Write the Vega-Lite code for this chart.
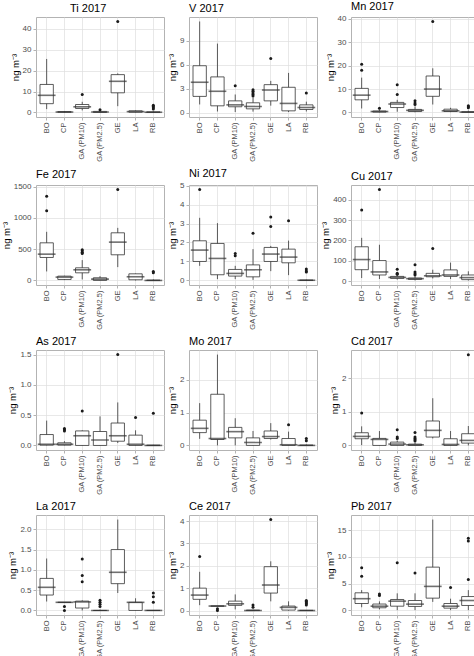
{
"$schema": "https://vega.github.io/schema/vega-lite/v6.json",
"padding": {"left": 0, "top": 0, "right": 0, "bottom": 0},
"data": {"values": [
{"el":"Ti","site":"BO","lo":1.6,"q1":4.2,"med":8.2,"q3":13.4,"hi":25.6},
{"el":"Ti","site":"CP","lo":0,"q1":0.1,"med":0.2,"q3":0.4,"hi":0.6},
{"el":"Ti","site":"GA (PM10)","lo":1.0,"q1":1.9,"med":2.7,"q3":3.8,"hi":5.1},
{"el":"Ti","site":"GA (PM2.5)","lo":0,"q1":0,"med":0.2,"q3":0.5,"hi":0.8},
{"el":"Ti","site":"GE","lo":3.0,"q1":9.4,"med":14.9,"q3":18.1,"hi":18.7},
{"el":"Ti","site":"LA","lo":0,"q1":0.1,"med":0.4,"q3":0.8,"hi":1.0},
{"el":"Ti","site":"RB","lo":0,"q1":0,"med":0.1,"q3":0.3,"hi":0.6},
{"el":"Ti","site":"GA (PM10)","v":8.6},{"el":"Ti","site":"GA (PM2.5)","v":1.3},{"el":"Ti","site":"GE","v":43.5},
{"el":"Ti","site":"RB","v":3.4},{"el":"Ti","site":"RB","v":2.8},{"el":"Ti","site":"RB","v":2.2},{"el":"Ti","site":"RB","v":1.6},
{"el":"V","site":"BO","lo":1.05,"q1":2.06,"med":3.83,"q3":5.9,"hi":11.44},
{"el":"V","site":"CP","lo":0.17,"q1":0.88,"med":2.7,"q3":4.5,"hi":8.67},
{"el":"V","site":"GA (PM10)","lo":0.1,"q1":0.76,"med":1.0,"q3":1.5,"hi":2.3},
{"el":"V","site":"GA (PM2.5)","lo":0.15,"q1":0.5,"med":0.8,"q3":1.26,"hi":1.9},
{"el":"V","site":"GE","lo":0.9,"q1":1.5,"med":2.86,"q3":3.53,"hi":4.0},
{"el":"V","site":"LA","lo":0.1,"q1":0.25,"med":1.18,"q3":3.2,"hi":5.0},
{"el":"V","site":"RB","lo":0.17,"q1":0.42,"med":0.67,"q3":1.0,"hi":1.4},
{"el":"V","site":"GA (PM10)","v":3.4},{"el":"V","site":"GA (PM2.5)","v":2.9},{"el":"V","site":"GA (PM2.5)","v":2.7},{"el":"V","site":"GA (PM2.5)","v":2.5},{"el":"V","site":"GA (PM2.5)","v":2.3},{"el":"V","site":"GA (PM2.5)","v":2.1},{"el":"V","site":"GE","v":6.8},{"el":"V","site":"RB","v":2.5},
{"el":"Mn","site":"BO","lo":1.7,"q1":5.4,"med":7.4,"q3":10.3,"hi":14.9},
{"el":"Mn","site":"CP","lo":0,"q1":0.15,"med":0.4,"q3":0.6,"hi":1.2},
{"el":"Mn","site":"GA (PM10)","lo":0.3,"q1":2.1,"med":3.6,"q3":4.3,"hi":5.4},
{"el":"Mn","site":"GA (PM2.5)","lo":0.05,"q1":0.4,"med":0.9,"q3":1.3,"hi":2.6},
{"el":"Mn","site":"GE","lo":3.4,"q1":6.9,"med":10.0,"q3":15.6,"hi":18.9},
{"el":"Mn","site":"LA","lo":0.1,"q1":0.4,"med":0.7,"q3":1.4,"hi":2.0},
{"el":"Mn","site":"RB","lo":0,"q1":0.05,"med":0.15,"q3":0.3,"hi":0.8},
{"el":"Mn","site":"BO","v":20.6},{"el":"Mn","site":"BO","v":18.1},{"el":"Mn","site":"CP","v":1.8},{"el":"Mn","site":"GA (PM10)","v":11.9},{"el":"Mn","site":"GA (PM10)","v":7.7},
{"el":"Mn","site":"GA (PM2.5)","v":5.0},{"el":"Mn","site":"GA (PM2.5)","v":4.0},{"el":"Mn","site":"GA (PM2.5)","v":3.4},{"el":"Mn","site":"GE","v":38.9},
{"el":"Mn","site":"RB","v":2.9},{"el":"Mn","site":"RB","v":2.4},{"el":"Mn","site":"RB","v":2.0},
{"el":"Fe","site":"BO","lo":144,"q1":367,"med":420,"q3":601,"hi":777},
{"el":"Fe","site":"CP","lo":5,"q1":16,"med":53,"q3":69,"hi":75},
{"el":"Fe","site":"GA (PM10)","lo":16,"q1":122,"med":170,"q3":202,"hi":325},
{"el":"Fe","site":"GA (PM2.5)","lo":0,"q1":0,"med":21,"q3":43,"hi":69},
{"el":"Fe","site":"GE","lo":213,"q1":410,"med":612,"q3":761,"hi":840},
{"el":"Fe","site":"LA","lo":0,"q1":11,"med":59,"q3":106,"hi":110},
{"el":"Fe","site":"RB","lo":0,"q1":0,"med":0,"q3":5,"hi":16},
{"el":"Fe","site":"BO","v":1346},{"el":"Fe","site":"BO","v":1112},{"el":"Fe","site":"GA (PM10)","v":490},{"el":"Fe","site":"GA (PM10)","v":473},{"el":"Fe","site":"GA (PM10)","v":452},{"el":"Fe","site":"GA (PM10)","v":431},
{"el":"Fe","site":"GE","v":1452},{"el":"Fe","site":"RB","v":144},{"el":"Fe","site":"RB","v":122},
{"el":"Ni","site":"BO","lo":0.77,"q1":1.0,"med":1.6,"q3":2.09,"hi":3.3},
{"el":"Ni","site":"CP","lo":0.07,"q1":0.3,"med":1.16,"q3":1.95,"hi":3.02},
{"el":"Ni","site":"GA (PM10)","lo":0.07,"q1":0.23,"med":0.37,"q3":0.58,"hi":0.77},
{"el":"Ni","site":"GA (PM2.5)","lo":0.03,"q1":0.19,"med":0.56,"q3":0.82,"hi":1.65},
{"el":"Ni","site":"GE","lo":0.49,"q1":1.0,"med":1.39,"q3":1.74,"hi":1.82},
{"el":"Ni","site":"LA","lo":0.28,"q1":0.93,"med":1.23,"q3":1.65,"hi":2.1},
{"el":"Ni","site":"RB","lo":0,"q1":0,"med":0.01,"q3":0.02,"hi":0.04},
{"el":"Ni","site":"BO","v":4.79},{"el":"Ni","site":"GA (PM10)","v":1.42},{"el":"Ni","site":"GA (PM10)","v":1.3},{"el":"Ni","site":"GA (PM2.5)","v":2.49},
{"el":"Ni","site":"GE","v":3.35},{"el":"Ni","site":"GE","v":2.84},{"el":"Ni","site":"LA","v":3.14},{"el":"Ni","site":"RB","v":0.6},{"el":"Ni","site":"RB","v":0.5},{"el":"Ni","site":"RB","v":0.45},
{"el":"Cu","site":"BO","lo":15,"q1":56,"med":106,"q3":169,"hi":213},
{"el":"Cu","site":"CP","lo":10,"q1":30,"med":45,"q3":101,"hi":179},
{"el":"Cu","site":"GA (PM10)","lo":7,"q1":13,"med":18,"q3":23,"hi":30},
{"el":"Cu","site":"GA (PM2.5)","lo":3,"q1":8,"med":12,"q3":15,"hi":23},
{"el":"Cu","site":"GE","lo":13,"q1":21,"med":26,"q3":38,"hi":56},
{"el":"Cu","site":"LA","lo":10,"q1":23,"med":30,"q3":55,"hi":91},
{"el":"Cu","site":"RB","lo":3,"q1":7,"med":17,"q3":30,"hi":48},
{"el":"Cu","site":"BO","v":350},{"el":"Cu","site":"CP","v":451},{"el":"Cu","site":"GA (PM10)","v":58},{"el":"Cu","site":"GA (PM10)","v":38},{"el":"Cu","site":"GA (PM10)","v":34},
{"el":"Cu","site":"GA (PM2.5)","v":81},{"el":"Cu","site":"GA (PM2.5)","v":45},{"el":"Cu","site":"GA (PM2.5)","v":36},{"el":"Cu","site":"GA (PM2.5)","v":30},{"el":"Cu","site":"GE","v":160},
{"el":"As","site":"BO","lo":0,"q1":0.005,"med":0.02,"q3":0.18,"hi":0.41},
{"el":"As","site":"CP","lo":0,"q1":0.005,"med":0.02,"q3":0.044,"hi":0.07},
{"el":"As","site":"GA (PM10)","lo":0,"q1":0,"med":0.16,"q3":0.24,"hi":0.25},
{"el":"As","site":"GA (PM2.5)","lo":0,"q1":0,"med":0.09,"q3":0.23,"hi":0.48},
{"el":"As","site":"GE","lo":0.04,"q1":0.07,"med":0.16,"q3":0.37,"hi":0.71},
{"el":"As","site":"LA","lo":0,"q1":0,"med":0.02,"q3":0.17,"hi":0.25},
{"el":"As","site":"RB","lo":0,"q1":0,"med":0,"q3":0.005,"hi":0.01},
{"el":"As","site":"CP","v":0.28},{"el":"As","site":"CP","v":0.26},{"el":"As","site":"CP","v":0.24},{"el":"As","site":"GA (PM10)","v":0.57},{"el":"As","site":"GE","v":1.5},{"el":"As","site":"LA","v":0.46},{"el":"As","site":"RB","v":0.53},
{"el":"Mo","site":"BO","lo":0.2,"q1":0.39,"med":0.52,"q3":0.77,"hi":1.29},
{"el":"Mo","site":"CP","lo":0,"q1":0.18,"med":0.21,"q3":1.56,"hi":2.77},
{"el":"Mo","site":"GA (PM10)","lo":0,"q1":0.23,"med":0.42,"q3":0.55,"hi":0.83},
{"el":"Mo","site":"GA (PM2.5)","lo":0,"q1":0,"med":0.09,"q3":0.23,"hi":0.44},
{"el":"Mo","site":"GE","lo":0.18,"q1":0.21,"med":0.27,"q3":0.44,"hi":0.68},
{"el":"Mo","site":"LA","lo":0,"q1":0,"med":0.02,"q3":0.21,"hi":0.42},
{"el":"Mo","site":"RB","lo":0,"q1":0,"med":0,"q3":0.01,"hi":0.03},
{"el":"Mo","site":"LA","v":0.63},{"el":"Mo","site":"RB","v":0.21},{"el":"Mo","site":"RB","v":0.14},
{"el":"Cd","site":"BO","lo":0.01,"q1":0.2,"med":0.27,"q3":0.38,"hi":0.57},
{"el":"Cd","site":"CP","lo":0,"q1":0,"med":0.18,"q3":0.21,"hi":0.43},
{"el":"Cd","site":"GA (PM10)","lo":0,"q1":0,"med":0.04,"q3":0.1,"hi":0.15},
{"el":"Cd","site":"GA (PM2.5)","lo":0,"q1":0,"med":0.02,"q3":0.04,"hi":0.08},
{"el":"Cd","site":"GE","lo":0.21,"q1":0.25,"med":0.45,"q3":0.73,"hi":1.41},
{"el":"Cd","site":"LA","lo":0,"q1":0,"med":0.03,"q3":0.2,"hi":0.43},
{"el":"Cd","site":"RB","lo":0,"q1":0.07,"med":0.15,"q3":0.35,"hi":0.58},
{"el":"Cd","site":"BO","v":0.97},{"el":"Cd","site":"GA (PM10)","v":0.47},{"el":"Cd","site":"GA (PM10)","v":0.25},{"el":"Cd","site":"GA (PM10)","v":0.21},
{"el":"Cd","site":"GA (PM2.5)","v":0.39},{"el":"Cd","site":"GA (PM2.5)","v":0.25},{"el":"Cd","site":"GA (PM2.5)","v":0.21},{"el":"Cd","site":"GA (PM2.5)","v":0.17},{"el":"Cd","site":"GA (PM2.5)","v":0.13},{"el":"Cd","site":"RB","v":2.71},
{"el":"La","site":"BO","lo":0.22,"q1":0.38,"med":0.57,"q3":0.79,"hi":1.28},
{"el":"La","site":"CP","lo":0.2,"q1":0.2,"med":0.2,"q3":0.2,"hi":0.2},
{"el":"La","site":"GA (PM10)","lo":0,"q1":0.06,"med":0.21,"q3":0.23,"hi":0.25},
{"el":"La","site":"GA (PM2.5)","lo":0,"q1":0,"med":0,"q3":0,"hi":0.02},
{"el":"La","site":"GE","lo":0.43,"q1":0.66,"med":0.94,"q3":1.5,"hi":2.24},
{"el":"La","site":"LA","lo":0,"q1":0,"med":0.2,"q3":0.2,"hi":0.3},
{"el":"La","site":"RB","lo":0,"q1":0,"med":0,"q3":0,"hi":0},
{"el":"La","site":"CP","v":0.1},{"el":"La","site":"CP","v":0.0},{"el":"La","site":"GA (PM10)","v":1.27},{"el":"La","site":"GA (PM10)","v":0.86},{"el":"La","site":"GA (PM10)","v":0.71},
{"el":"La","site":"GA (PM2.5)","v":0.25},{"el":"La","site":"GA (PM2.5)","v":0.2},{"el":"La","site":"GA (PM2.5)","v":0.15},{"el":"La","site":"GA (PM2.5)","v":0.1},
{"el":"La","site":"RB","v":0.43},{"el":"La","site":"RB","v":0.34},{"el":"La","site":"RB","v":0.2},
{"el":"Ce","site":"BO","lo":0.24,"q1":0.5,"med":0.69,"q3":1.0,"hi":1.73},
{"el":"Ce","site":"CP","lo":0.2,"q1":0.2,"med":0.2,"q3":0.2,"hi":0.2},
{"el":"Ce","site":"GA (PM10)","lo":0.05,"q1":0.23,"med":0.3,"q3":0.42,"hi":0.72},
{"el":"Ce","site":"GA (PM2.5)","lo":0,"q1":0,"med":0,"q3":0.02,"hi":0.03},
{"el":"Ce","site":"GE","lo":0.41,"q1":0.78,"med":1.14,"q3":1.96,"hi":2.2},
{"el":"Ce","site":"LA","lo":0,"q1":0.02,"med":0.14,"q3":0.2,"hi":0.41},
{"el":"Ce","site":"RB","lo":0,"q1":0,"med":0,"q3":0.01,"hi":0.02},
{"el":"Ce","site":"BO","v":2.41},{"el":"Ce","site":"CP","v":0.08},{"el":"Ce","site":"CP","v":0.0},{"el":"Ce","site":"GA (PM2.5)","v":0.25},{"el":"Ce","site":"GA (PM2.5)","v":0.15},{"el":"Ce","site":"GE","v":4.07},
{"el":"Ce","site":"RB","v":0.45},{"el":"Ce","site":"RB","v":0.4},{"el":"Ce","site":"RB","v":0.35},{"el":"Ce","site":"RB","v":0.3},{"el":"Ce","site":"RB","v":0.25},
{"el":"Pb","site":"BO","lo":0.6,"q1":1.3,"med":2.2,"q3":3.3,"hi":3.8},
{"el":"Pb","site":"CP","lo":0.2,"q1":0.5,"med":0.8,"q3":1.2,"hi":1.7},
{"el":"Pb","site":"GA (PM10)","lo":0.06,"q1":0.8,"med":1.74,"q3":2.05,"hi":3.2},
{"el":"Pb","site":"GA (PM2.5)","lo":0.06,"q1":0.75,"med":1.18,"q3":1.86,"hi":3.2},
{"el":"Pb","site":"GE","lo":1.6,"q1":2.3,"med":4.5,"q3":8.1,"hi":17.0},
{"el":"Pb","site":"LA","lo":0.06,"q1":0.43,"med":0.8,"q3":1.3,"hi":2.2},
{"el":"Pb","site":"RB","lo":0.06,"q1":0.93,"med":1.86,"q3":2.6,"hi":3.8},
{"el":"Pb","site":"BO","v":8.0},{"el":"Pb","site":"BO","v":6.4},{"el":"Pb","site":"CP","v":3.1},{"el":"Pb","site":"CP","v":2.8},{"el":"Pb","site":"GA (PM10)","v":8.9},{"el":"Pb","site":"GA (PM2.5)","v":7.0},
{"el":"Pb","site":"LA","v":4.3},{"el":"Pb","site":"RB","v":13.5},{"el":"Pb","site":"RB","v":13.0},{"el":"Pb","site":"RB","v":5.8}
]},
"columns": 3,
"spacing": {"row": 4, "column": 2},
"concat": [
{"title":{"text":"Ti 2017","dx":34},"width":128,"height":100,"transform":[{"filter":"datum.el==='Ti'"}],"resolve":{"axis":{"y":"independent"}},
 "encoding":{"x":{"field":"site","type":"nominal","scale":{"domain":["BO","CP","GA (PM10)","GA (PM2.5)","GE","LA","RB"],"paddingInner":0,"paddingOuter":0.1},"axis":{"title":null,"labelAngle":-90,"grid":true,"bandPosition":0.5}}},
 "layer":[
  {"transform":[{"filter":"datum.lo!=null"}],"mark":{"type":"rule","color":"#333333","strokeWidth":0.8},"encoding":{"y":{"field":"lo","type":"quantitative","title":"ng m⁻³","scale":{"domain":[-2.175,45.675],"nice":false,"zero":false},"axis":{"values":[0,10,20,30,40],"orient":"left"}},"y2":{"field":"hi"}}},
  {"transform":[{"filter":"datum.q1!=null"}],"mark":{"type":"bar","width":{"band":0.75},"fill":"white","stroke":"#333333","strokeWidth":0.8},"encoding":{"y":{"field":"q1","type":"quantitative","axis":null},"y2":{"field":"q3"}}},
  {"transform":[{"filter":"datum.med!=null"}],"mark":{"type":"tick","color":"#333333","thickness":1.6},"encoding":{"y":{"field":"med","type":"quantitative","axis":null}}},
  {"transform":[{"filter":"datum.v!=null"}],"mark":{"type":"point","filled":true,"color":"#1a1a1a","size":9,"opacity":1},"encoding":{"y":{"field":"v","type":"quantitative","axis":{"values":[5,15,25,35,45],"orient":"right","labels":false,"ticks":false,"title":null,"gridColor":"#f0f0f0","minExtent":0,"maxExtent":0}}}}
 ]},
{"title":"V 2017","width":128,"height":100,"transform":[{"filter":"datum.el==='V'"}],"resolve":{"axis":{"y":"independent"}},
 "encoding":{"x":{"field":"site","type":"nominal","scale":{"domain":["BO","CP","GA (PM10)","GA (PM2.5)","GE","LA","RB"],"paddingInner":0,"paddingOuter":0.1},"axis":{"title":null,"labelAngle":-90,"grid":true,"bandPosition":0.5}}},
 "layer":[
  {"transform":[{"filter":"datum.lo!=null"}],"mark":{"type":"rule","color":"#333333","strokeWidth":0.8},"encoding":{"y":{"field":"lo","type":"quantitative","title":"ng m⁻³","scale":{"domain":[-0.52,12.0],"nice":false,"zero":false},"axis":{"values":[0,3,6,9],"orient":"left"}},"y2":{"field":"hi"}}},
  {"transform":[{"filter":"datum.q1!=null"}],"mark":{"type":"bar","width":{"band":0.75},"fill":"white","stroke":"#333333","strokeWidth":0.8},"encoding":{"y":{"field":"q1","type":"quantitative","axis":null},"y2":{"field":"q3"}}},
  {"transform":[{"filter":"datum.med!=null"}],"mark":{"type":"tick","color":"#333333","thickness":1.6},"encoding":{"y":{"field":"med","type":"quantitative","axis":null}}},
  {"transform":[{"filter":"datum.v!=null"}],"mark":{"type":"point","filled":true,"color":"#1a1a1a","size":9,"opacity":1},"encoding":{"y":{"field":"v","type":"quantitative","axis":{"values":[1.5,4.5,7.5,10.5],"orient":"right","labels":false,"ticks":false,"title":null,"gridColor":"#f0f0f0","minExtent":0,"maxExtent":0}}}}
 ]},
{"title":"Mn 2017","width":128,"height":100,"transform":[{"filter":"datum.el==='Mn'"}],"resolve":{"axis":{"y":"independent"}},
 "encoding":{"x":{"field":"site","type":"nominal","scale":{"domain":["BO","CP","GA (PM10)","GA (PM2.5)","GE","LA","RB"],"paddingInner":0,"paddingOuter":0.1},"axis":{"title":null,"labelAngle":-90,"grid":true,"bandPosition":0.5}}},
 "layer":[
  {"transform":[{"filter":"datum.lo!=null"}],"mark":{"type":"rule","color":"#333333","strokeWidth":0.8},"encoding":{"y":{"field":"lo","type":"quantitative","title":"ng m⁻³","scale":{"domain":[-1.95,40.85],"nice":false,"zero":false},"axis":{"values":[0,10,20,30,40],"orient":"left"}},"y2":{"field":"hi"}}},
  {"transform":[{"filter":"datum.q1!=null"}],"mark":{"type":"bar","width":{"band":0.75},"fill":"white","stroke":"#333333","strokeWidth":0.8},"encoding":{"y":{"field":"q1","type":"quantitative","axis":null},"y2":{"field":"q3"}}},
  {"transform":[{"filter":"datum.med!=null"}],"mark":{"type":"tick","color":"#333333","thickness":1.6},"encoding":{"y":{"field":"med","type":"quantitative","axis":null}}},
  {"transform":[{"filter":"datum.v!=null"}],"mark":{"type":"point","filled":true,"color":"#1a1a1a","size":9,"opacity":1},"encoding":{"y":{"field":"v","type":"quantitative","axis":{"values":[5,15,25,35],"orient":"right","labels":false,"ticks":false,"title":null,"gridColor":"#f0f0f0","minExtent":0,"maxExtent":0}}}}
 ]},
{"title":"Fe 2017","width":128,"height":100,"transform":[{"filter":"datum.el==='Fe'"}],"resolve":{"axis":{"y":"independent"}},
 "encoding":{"x":{"field":"site","type":"nominal","scale":{"domain":["BO","CP","GA (PM10)","GA (PM2.5)","GE","LA","RB"],"paddingInner":0,"paddingOuter":0.1},"axis":{"title":null,"labelAngle":-90,"grid":true,"bandPosition":0.5}}},
 "layer":[
  {"transform":[{"filter":"datum.lo!=null"}],"mark":{"type":"rule","color":"#333333","strokeWidth":0.8},"encoding":{"y":{"field":"lo","type":"quantitative","title":"ng m⁻³","scale":{"domain":[-72.6,1524.6],"nice":false,"zero":false},"axis":{"values":[0,500,1000,1500],"orient":"left","format":"d"}},"y2":{"field":"hi"}}},
  {"transform":[{"filter":"datum.q1!=null"}],"mark":{"type":"bar","width":{"band":0.75},"fill":"white","stroke":"#333333","strokeWidth":0.8},"encoding":{"y":{"field":"q1","type":"quantitative","axis":null},"y2":{"field":"q3"}}},
  {"transform":[{"filter":"datum.med!=null"}],"mark":{"type":"tick","color":"#333333","thickness":1.6},"encoding":{"y":{"field":"med","type":"quantitative","axis":null}}},
  {"transform":[{"filter":"datum.v!=null"}],"mark":{"type":"point","filled":true,"color":"#1a1a1a","size":9,"opacity":1},"encoding":{"y":{"field":"v","type":"quantitative","axis":{"values":[250,750,1250],"orient":"right","labels":false,"ticks":false,"title":null,"gridColor":"#f0f0f0","minExtent":0,"maxExtent":0}}}}
 ]},
{"title":"Ni 2017","width":128,"height":100,"transform":[{"filter":"datum.el==='Ni'"}],"resolve":{"axis":{"y":"independent"}},
 "encoding":{"x":{"field":"site","type":"nominal","scale":{"domain":["BO","CP","GA (PM10)","GA (PM2.5)","GE","LA","RB"],"paddingInner":0,"paddingOuter":0.1},"axis":{"title":null,"labelAngle":-90,"grid":true,"bandPosition":0.5}}},
 "layer":[
  {"transform":[{"filter":"datum.lo!=null"}],"mark":{"type":"rule","color":"#333333","strokeWidth":0.8},"encoding":{"y":{"field":"lo","type":"quantitative","title":"ng m⁻³","scale":{"domain":[-0.24,5.03],"nice":false,"zero":false},"axis":{"values":[0,1,2,3,4,5],"orient":"left"}},"y2":{"field":"hi"}}},
  {"transform":[{"filter":"datum.q1!=null"}],"mark":{"type":"bar","width":{"band":0.75},"fill":"white","stroke":"#333333","strokeWidth":0.8},"encoding":{"y":{"field":"q1","type":"quantitative","axis":null},"y2":{"field":"q3"}}},
  {"transform":[{"filter":"datum.med!=null"}],"mark":{"type":"tick","color":"#333333","thickness":1.6},"encoding":{"y":{"field":"med","type":"quantitative","axis":null}}},
  {"transform":[{"filter":"datum.v!=null"}],"mark":{"type":"point","filled":true,"color":"#1a1a1a","size":9,"opacity":1},"encoding":{"y":{"field":"v","type":"quantitative","axis":{"values":[0.5,1.5,2.5,3.5,4.5],"orient":"right","labels":false,"ticks":false,"title":null,"gridColor":"#f0f0f0","minExtent":0,"maxExtent":0}}}}
 ]},
{"title":"Cu 2017","width":128,"height":100,"transform":[{"filter":"datum.el==='Cu'"}],"resolve":{"axis":{"y":"independent"}},
 "encoding":{"x":{"field":"site","type":"nominal","scale":{"domain":["BO","CP","GA (PM10)","GA (PM2.5)","GE","LA","RB"],"paddingInner":0,"paddingOuter":0.1},"axis":{"title":null,"labelAngle":-90,"grid":true,"bandPosition":0.5}}},
 "layer":[
  {"transform":[{"filter":"datum.lo!=null"}],"mark":{"type":"rule","color":"#333333","strokeWidth":0.8},"encoding":{"y":{"field":"lo","type":"quantitative","title":"ng m⁻³","scale":{"domain":[-19.4,473.4],"nice":false,"zero":false},"axis":{"values":[0,100,200,300,400],"orient":"left"}},"y2":{"field":"hi"}}},
  {"transform":[{"filter":"datum.q1!=null"}],"mark":{"type":"bar","width":{"band":0.75},"fill":"white","stroke":"#333333","strokeWidth":0.8},"encoding":{"y":{"field":"q1","type":"quantitative","axis":null},"y2":{"field":"q3"}}},
  {"transform":[{"filter":"datum.med!=null"}],"mark":{"type":"tick","color":"#333333","thickness":1.6},"encoding":{"y":{"field":"med","type":"quantitative","axis":null}}},
  {"transform":[{"filter":"datum.v!=null"}],"mark":{"type":"point","filled":true,"color":"#1a1a1a","size":9,"opacity":1},"encoding":{"y":{"field":"v","type":"quantitative","axis":{"values":[50,150,250,350,450],"orient":"right","labels":false,"ticks":false,"title":null,"gridColor":"#f0f0f0","minExtent":0,"maxExtent":0}}}}
 ]},
{"title":"As 2017","width":128,"height":100,"transform":[{"filter":"datum.el==='As'"}],"resolve":{"axis":{"y":"independent"}},
 "encoding":{"x":{"field":"site","type":"nominal","scale":{"domain":["BO","CP","GA (PM10)","GA (PM2.5)","GE","LA","RB"],"paddingInner":0,"paddingOuter":0.1},"axis":{"title":null,"labelAngle":-90,"grid":true,"bandPosition":0.5}}},
 "layer":[
  {"transform":[{"filter":"datum.lo!=null"}],"mark":{"type":"rule","color":"#333333","strokeWidth":0.8},"encoding":{"y":{"field":"lo","type":"quantitative","title":"ng m⁻³","scale":{"domain":[-0.075,1.575],"nice":false,"zero":false},"axis":{"values":[0,0.5,1,1.5],"orient":"left","format":".1f"}},"y2":{"field":"hi"}}},
  {"transform":[{"filter":"datum.q1!=null"}],"mark":{"type":"bar","width":{"band":0.75},"fill":"white","stroke":"#333333","strokeWidth":0.8},"encoding":{"y":{"field":"q1","type":"quantitative","axis":null},"y2":{"field":"q3"}}},
  {"transform":[{"filter":"datum.med!=null"}],"mark":{"type":"tick","color":"#333333","thickness":1.6},"encoding":{"y":{"field":"med","type":"quantitative","axis":null}}},
  {"transform":[{"filter":"datum.v!=null"}],"mark":{"type":"point","filled":true,"color":"#1a1a1a","size":9,"opacity":1},"encoding":{"y":{"field":"v","type":"quantitative","axis":{"values":[0.25,0.75,1.25],"orient":"right","labels":false,"ticks":false,"title":null,"gridColor":"#f0f0f0","minExtent":0,"maxExtent":0}}}}
 ]},
{"title":"Mo 2017","width":128,"height":100,"transform":[{"filter":"datum.el==='Mo'"}],"resolve":{"axis":{"y":"independent"}},
 "encoding":{"x":{"field":"site","type":"nominal","scale":{"domain":["BO","CP","GA (PM10)","GA (PM2.5)","GE","LA","RB"],"paddingInner":0,"paddingOuter":0.1},"axis":{"title":null,"labelAngle":-90,"grid":true,"bandPosition":0.5}}},
 "layer":[
  {"transform":[{"filter":"datum.lo!=null"}],"mark":{"type":"rule","color":"#333333","strokeWidth":0.8},"encoding":{"y":{"field":"lo","type":"quantitative","title":"ng m⁻³","scale":{"domain":[-0.14,2.91],"nice":false,"zero":false},"axis":{"values":[0,1,2],"orient":"left"}},"y2":{"field":"hi"}}},
  {"transform":[{"filter":"datum.q1!=null"}],"mark":{"type":"bar","width":{"band":0.75},"fill":"white","stroke":"#333333","strokeWidth":0.8},"encoding":{"y":{"field":"q1","type":"quantitative","axis":null},"y2":{"field":"q3"}}},
  {"transform":[{"filter":"datum.med!=null"}],"mark":{"type":"tick","color":"#333333","thickness":1.6},"encoding":{"y":{"field":"med","type":"quantitative","axis":null}}},
  {"transform":[{"filter":"datum.v!=null"}],"mark":{"type":"point","filled":true,"color":"#1a1a1a","size":9,"opacity":1},"encoding":{"y":{"field":"v","type":"quantitative","axis":{"values":[0.5,1.5,2.5],"orient":"right","labels":false,"ticks":false,"title":null,"gridColor":"#f0f0f0","minExtent":0,"maxExtent":0}}}}
 ]},
{"title":"Cd 2017","width":128,"height":100,"transform":[{"filter":"datum.el==='Cd'"}],"resolve":{"axis":{"y":"independent"}},
 "encoding":{"x":{"field":"site","type":"nominal","scale":{"domain":["BO","CP","GA (PM10)","GA (PM2.5)","GE","LA","RB"],"paddingInner":0,"paddingOuter":0.1},"axis":{"title":null,"labelAngle":-90,"grid":true,"bandPosition":0.5}}},
 "layer":[
  {"transform":[{"filter":"datum.lo!=null"}],"mark":{"type":"rule","color":"#333333","strokeWidth":0.8},"encoding":{"y":{"field":"lo","type":"quantitative","title":"ng m⁻³","scale":{"domain":[-0.136,2.85],"nice":false,"zero":false},"axis":{"values":[0,1,2],"orient":"left"}},"y2":{"field":"hi"}}},
  {"transform":[{"filter":"datum.q1!=null"}],"mark":{"type":"bar","width":{"band":0.75},"fill":"white","stroke":"#333333","strokeWidth":0.8},"encoding":{"y":{"field":"q1","type":"quantitative","axis":null},"y2":{"field":"q3"}}},
  {"transform":[{"filter":"datum.med!=null"}],"mark":{"type":"tick","color":"#333333","thickness":1.6},"encoding":{"y":{"field":"med","type":"quantitative","axis":null}}},
  {"transform":[{"filter":"datum.v!=null"}],"mark":{"type":"point","filled":true,"color":"#1a1a1a","size":9,"opacity":1},"encoding":{"y":{"field":"v","type":"quantitative","axis":{"values":[0.5,1.5,2.5],"orient":"right","labels":false,"ticks":false,"title":null,"gridColor":"#f0f0f0","minExtent":0,"maxExtent":0}}}}
 ]},
{"title":"La 2017","width":128,"height":100,"transform":[{"filter":"datum.el==='La'"}],"resolve":{"axis":{"y":"independent"}},
 "encoding":{"x":{"field":"site","type":"nominal","scale":{"domain":["BO","CP","GA (PM10)","GA (PM2.5)","GE","LA","RB"],"paddingInner":0,"paddingOuter":0.1},"axis":{"title":null,"labelAngle":-90,"grid":true,"bandPosition":0.5}}},
 "layer":[
  {"transform":[{"filter":"datum.lo!=null"}],"mark":{"type":"rule","color":"#333333","strokeWidth":0.8},"encoding":{"y":{"field":"lo","type":"quantitative","title":"ng m⁻³","scale":{"domain":[-0.112,2.352],"nice":false,"zero":false},"axis":{"values":[0,0.5,1,1.5,2],"orient":"left","format":".1f"}},"y2":{"field":"hi"}}},
  {"transform":[{"filter":"datum.q1!=null"}],"mark":{"type":"bar","width":{"band":0.75},"fill":"white","stroke":"#333333","strokeWidth":0.8},"encoding":{"y":{"field":"q1","type":"quantitative","axis":null},"y2":{"field":"q3"}}},
  {"transform":[{"filter":"datum.med!=null"}],"mark":{"type":"tick","color":"#333333","thickness":1.6},"encoding":{"y":{"field":"med","type":"quantitative","axis":null}}},
  {"transform":[{"filter":"datum.v!=null"}],"mark":{"type":"point","filled":true,"color":"#1a1a1a","size":9,"opacity":1},"encoding":{"y":{"field":"v","type":"quantitative","axis":{"values":[0.25,0.75,1.25,1.75,2.25],"orient":"right","labels":false,"ticks":false,"title":null,"gridColor":"#f0f0f0","minExtent":0,"maxExtent":0}}}}
 ]},
{"title":"Ce 2017","width":128,"height":100,"transform":[{"filter":"datum.el==='Ce'"}],"resolve":{"axis":{"y":"independent"}},
 "encoding":{"x":{"field":"site","type":"nominal","scale":{"domain":["BO","CP","GA (PM10)","GA (PM2.5)","GE","LA","RB"],"paddingInner":0,"paddingOuter":0.1},"axis":{"title":null,"labelAngle":-90,"grid":true,"bandPosition":0.5}}},
 "layer":[
  {"transform":[{"filter":"datum.lo!=null"}],"mark":{"type":"rule","color":"#333333","strokeWidth":0.8},"encoding":{"y":{"field":"lo","type":"quantitative","title":"ng m⁻³","scale":{"domain":[-0.2,4.27],"nice":false,"zero":false},"axis":{"values":[0,1,2,3,4],"orient":"left"}},"y2":{"field":"hi"}}},
  {"transform":[{"filter":"datum.q1!=null"}],"mark":{"type":"bar","width":{"band":0.75},"fill":"white","stroke":"#333333","strokeWidth":0.8},"encoding":{"y":{"field":"q1","type":"quantitative","axis":null},"y2":{"field":"q3"}}},
  {"transform":[{"filter":"datum.med!=null"}],"mark":{"type":"tick","color":"#333333","thickness":1.6},"encoding":{"y":{"field":"med","type":"quantitative","axis":null}}},
  {"transform":[{"filter":"datum.v!=null"}],"mark":{"type":"point","filled":true,"color":"#1a1a1a","size":9,"opacity":1},"encoding":{"y":{"field":"v","type":"quantitative","axis":{"values":[0.5,1.5,2.5,3.5],"orient":"right","labels":false,"ticks":false,"title":null,"gridColor":"#f0f0f0","minExtent":0,"maxExtent":0}}}}
 ]},
{"title":"Pb 2017","width":128,"height":100,"transform":[{"filter":"datum.el==='Pb'"}],"resolve":{"axis":{"y":"independent"}},
 "encoding":{"x":{"field":"site","type":"nominal","scale":{"domain":["BO","CP","GA (PM10)","GA (PM2.5)","GE","LA","RB"],"paddingInner":0,"paddingOuter":0.1},"axis":{"title":null,"labelAngle":-90,"grid":true,"bandPosition":0.5}}},
 "layer":[
  {"transform":[{"filter":"datum.lo!=null"}],"mark":{"type":"rule","color":"#333333","strokeWidth":0.8},"encoding":{"y":{"field":"lo","type":"quantitative","title":"ng m⁻³","scale":{"domain":[-0.85,17.85],"nice":false,"zero":false},"axis":{"values":[0,5,10,15],"orient":"left"}},"y2":{"field":"hi"}}},
  {"transform":[{"filter":"datum.q1!=null"}],"mark":{"type":"bar","width":{"band":0.75},"fill":"white","stroke":"#333333","strokeWidth":0.8},"encoding":{"y":{"field":"q1","type":"quantitative","axis":null},"y2":{"field":"q3"}}},
  {"transform":[{"filter":"datum.med!=null"}],"mark":{"type":"tick","color":"#333333","thickness":1.6},"encoding":{"y":{"field":"med","type":"quantitative","axis":null}}},
  {"transform":[{"filter":"datum.v!=null"}],"mark":{"type":"point","filled":true,"color":"#1a1a1a","size":9,"opacity":1},"encoding":{"y":{"field":"v","type":"quantitative","axis":{"values":[2.5,7.5,12.5,17.5],"orient":"right","labels":false,"ticks":false,"title":null,"gridColor":"#f0f0f0","minExtent":0,"maxExtent":0}}}}
 ]}
],
"config": {
 "font": "Liberation Sans",
 "view": {"stroke": "#b3b3b3", "strokeWidth": 1},
 "axis": {"labelColor": "#4d4d4d", "labelFontSize": 8, "tickColor": "#b3b3b3", "tickSize": 3, "domain": false, "gridColor": "#dedede", "gridWidth": 0.7, "titleFontSize": 9.5, "titleFontWeight": "normal", "titleColor": "#000000", "labelPadding": 2, "labelOverlap": false, "labelFlush": false},
 "axisX": {"labelFontSize": 7.5, "labelAlign": "right", "labelBaseline": "middle"},
 "axisY": {"titlePadding": 2},
 "title": {"anchor": "start", "frame": "group", "fontSize": 11, "fontWeight": "normal", "offset": 3, "color": "#000000"}
}
}
